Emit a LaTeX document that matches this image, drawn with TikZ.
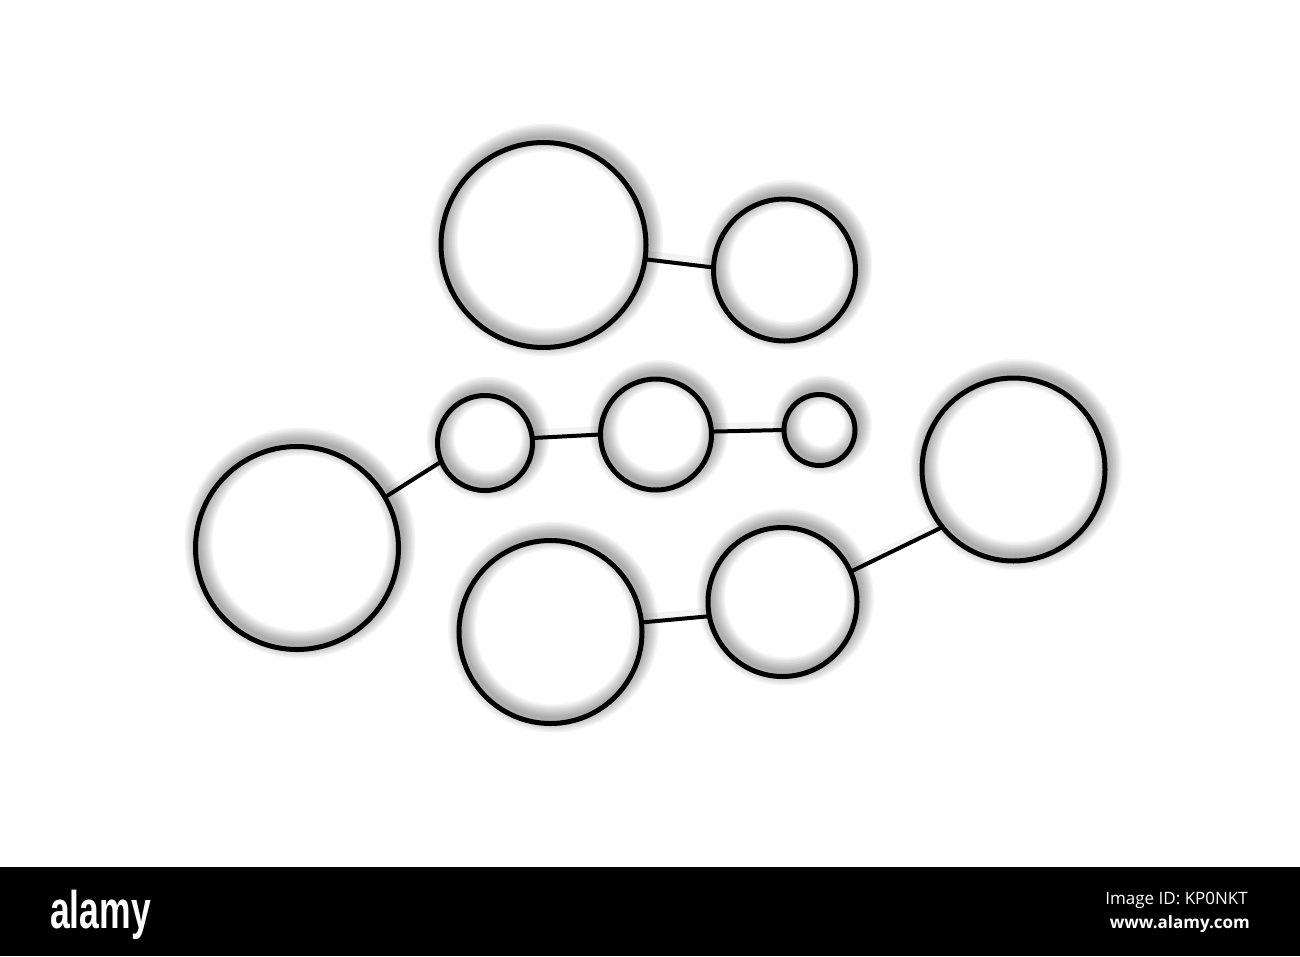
\documentclass[tikz,border=0pt]{standalone}
\usepackage{fontspec}
\newfontfamily\logofont{Liberation Sans}
\newfontfamily\idfont{Open Sans}

\begin{document}
\begin{tikzpicture}[x=1pt,y=-1pt,
bubble/.style={circle,draw,line width=5pt,inner sep=0pt,outer sep=0pt},
ringshade/.style={draw=black,opacity=.04},
link/.style={line width=4pt,preaction={draw=black,opacity=.05,line width=9pt,transform canvas={xshift=2pt,yshift=4pt}}},
tag/.style={text=white,inner sep=0pt}]

\useasboundingbox (0,0) rectangle (1300,956);
\fill[white] (0,0) rectangle (1300,956);

\foreach \cx/\cy/\d/\nm in {543.5/245/205/TB, 784.5/270/142/TR, 297/548/203/LB,
  485/443/95/S1, 656/434.5/111/M, 819.5/430/71/S2, 1013.5/469.5/183/RB,
  550.5/632/183/BL, 782.5/602/149/BM} {
  \foreach \w in {4,7,...,28}
    \draw[ringshade,line width=\w pt] (\cx+3,\cy-5) circle[radius={\d pt/2}];
  \node[bubble,minimum size=\d pt] (\nm) at (\cx,\cy) {};
}

\draw[link] (TB.-8) -- (TR.178);
\draw[link] (LB.30) -- (S1.203);
\draw[link] (S1.6) -- (M.180);
\draw[link] (M.3) -- (S2.180);
\draw[link] (BL.6) -- (BM.191);
\draw[link] (BM.24) -- (RB.219);

\fill[black] (0,867) rectangle (1300,956);
\node[tag,anchor=base west,xscale=.67,font=\logofont\bfseries\fontsize{53}{53}\selectfont] (logo) at (50,928) {alamy};
\node[tag,anchor=base east,font=\idfont\fontsize{17}{17}\selectfont] (imgid) at (1248,904) {Image ID: KP0NKT};
\node[tag,anchor=base east,font=\idfont\bfseries\fontsize{17}{17}\selectfont] (site) at (1250,928) {www.alamy.com};

\end{tikzpicture}
\end{document}
